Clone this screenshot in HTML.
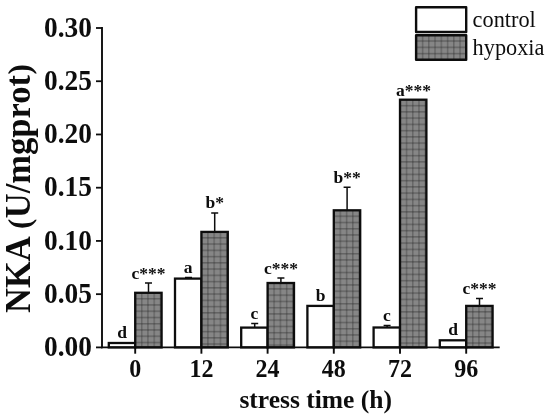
<!DOCTYPE html>
<html><head><meta charset="utf-8"><title>NKA</title><style>html,body{margin:0;padding:0;background:#fff}body{width:550px;height:417px;overflow:hidden}</style></head><body>
<svg width="550" height="417" viewBox="0 0 550 417" style="display:block">
<defs><pattern id="g0" x="140.95" y="297.95" width="6.25" height="6.25" patternUnits="userSpaceOnUse"><rect width="6.25" height="6.25" fill="#868686"/><path d="M0 0.8H6.25M0.8 0V6.25" stroke="#575757" stroke-width="1.0"/><rect x="0.2" y="0.2" width="1.2" height="1.2" fill="#4a4a4a"/></pattern><pattern id="g1" x="207.15" y="237.05" width="6.25" height="6.25" patternUnits="userSpaceOnUse"><rect width="6.25" height="6.25" fill="#868686"/><path d="M0 0.8H6.25M0.8 0V6.25" stroke="#575757" stroke-width="1.0"/><rect x="0.2" y="0.2" width="1.2" height="1.2" fill="#4a4a4a"/></pattern><pattern id="g2" x="273.35" y="288.15" width="6.25" height="6.25" patternUnits="userSpaceOnUse"><rect width="6.25" height="6.25" fill="#868686"/><path d="M0 0.8H6.25M0.8 0V6.25" stroke="#575757" stroke-width="1.0"/><rect x="0.2" y="0.2" width="1.2" height="1.2" fill="#4a4a4a"/></pattern><pattern id="g3" x="339.55" y="215.45" width="6.25" height="6.25" patternUnits="userSpaceOnUse"><rect width="6.25" height="6.25" fill="#868686"/><path d="M0 0.8H6.25M0.8 0V6.25" stroke="#575757" stroke-width="1.0"/><rect x="0.2" y="0.2" width="1.2" height="1.2" fill="#4a4a4a"/></pattern><pattern id="g4" x="405.75" y="104.85" width="6.25" height="6.25" patternUnits="userSpaceOnUse"><rect width="6.25" height="6.25" fill="#868686"/><path d="M0 0.8H6.25M0.8 0V6.25" stroke="#575757" stroke-width="1.0"/><rect x="0.2" y="0.2" width="1.2" height="1.2" fill="#4a4a4a"/></pattern><pattern id="g5" x="471.95" y="311.05" width="6.25" height="6.25" patternUnits="userSpaceOnUse"><rect width="6.25" height="6.25" fill="#868686"/><path d="M0 0.8H6.25M0.8 0V6.25" stroke="#575757" stroke-width="1.0"/><rect x="0.2" y="0.2" width="1.2" height="1.2" fill="#4a4a4a"/></pattern><pattern id="gl" x="421.80" y="40.30" width="6.25" height="6.25" patternUnits="userSpaceOnUse"><rect width="6.25" height="6.25" fill="#868686"/><path d="M0 0.8H6.25M0.8 0V6.25" stroke="#575757" stroke-width="1.0"/><rect x="0.2" y="0.2" width="1.2" height="1.2" fill="#4a4a4a"/></pattern></defs>
<rect width="550" height="417" fill="#fff"/>
<path d="M148.5 292.8V282.9M145.0 282.9h7" stroke="#0d0d0d" stroke-width="1.5" fill="none"/>
<rect x="108.8" y="343.0" width="26.4" height="4.4" fill="#fff" stroke="#0d0d0d" stroke-width="2.3"/>
<rect x="135.2" y="292.8" width="26.4" height="54.6" fill="url(#g0)" stroke="#0d0d0d" stroke-width="2.3"/>
<text x="122.0" y="337.6" font-family='"Liberation Serif", serif' font-weight="bold" font-size="17.5" text-anchor="middle" fill="#0d0d0d">d</text>
<text x="148.6" y="278.5" font-family='"Liberation Serif", serif' font-weight="bold" font-size="17.5" text-anchor="middle" fill="#0d0d0d">c***</text>
<path d="M214.7 231.9V213.1M211.2 213.1h7" stroke="#0d0d0d" stroke-width="1.5" fill="none"/>
<path d="M188.5 278.6V277.4M185.0 277.4h7" stroke="#0d0d0d" stroke-width="1.5" fill="none"/>
<rect x="175.0" y="278.6" width="26.4" height="68.8" fill="#fff" stroke="#0d0d0d" stroke-width="2.3"/>
<rect x="201.4" y="231.9" width="26.4" height="115.5" fill="url(#g1)" stroke="#0d0d0d" stroke-width="2.3"/>
<text x="188.2" y="272.9" font-family='"Liberation Serif", serif' font-weight="bold" font-size="17.5" text-anchor="middle" fill="#0d0d0d">a</text>
<text x="214.8" y="208.0" font-family='"Liberation Serif", serif' font-weight="bold" font-size="17.5" text-anchor="middle" fill="#0d0d0d">b*</text>
<path d="M280.9 283.0V278.1M277.4 278.1h7" stroke="#0d0d0d" stroke-width="1.5" fill="none"/>
<path d="M254.7 327.6V323.4M251.2 323.4h7" stroke="#0d0d0d" stroke-width="1.5" fill="none"/>
<rect x="241.2" y="327.6" width="26.4" height="19.8" fill="#fff" stroke="#0d0d0d" stroke-width="2.3"/>
<rect x="267.6" y="283.0" width="26.4" height="64.4" fill="url(#g2)" stroke="#0d0d0d" stroke-width="2.3"/>
<text x="254.4" y="318.5" font-family='"Liberation Serif", serif' font-weight="bold" font-size="17.5" text-anchor="middle" fill="#0d0d0d">c</text>
<text x="281.0" y="273.7" font-family='"Liberation Serif", serif' font-weight="bold" font-size="17.5" text-anchor="middle" fill="#0d0d0d">c***</text>
<path d="M347.1 210.3V187.2M343.6 187.2h7" stroke="#0d0d0d" stroke-width="1.5" fill="none"/>
<rect x="307.4" y="305.9" width="26.4" height="41.5" fill="#fff" stroke="#0d0d0d" stroke-width="2.3"/>
<rect x="333.8" y="210.3" width="26.4" height="137.1" fill="url(#g3)" stroke="#0d0d0d" stroke-width="2.3"/>
<text x="320.6" y="301.2" font-family='"Liberation Serif", serif' font-weight="bold" font-size="17.5" text-anchor="middle" fill="#0d0d0d">b</text>
<text x="347.2" y="182.8" font-family='"Liberation Serif", serif' font-weight="bold" font-size="17.5" text-anchor="middle" fill="#0d0d0d">b**</text>
<path d="M387.1 327.5V325.5M383.6 325.5h7" stroke="#0d0d0d" stroke-width="1.5" fill="none"/>
<rect x="373.6" y="327.5" width="26.4" height="19.9" fill="#fff" stroke="#0d0d0d" stroke-width="2.3"/>
<rect x="400.0" y="99.7" width="26.4" height="247.7" fill="url(#g4)" stroke="#0d0d0d" stroke-width="2.3"/>
<text x="386.8" y="321.1" font-family='"Liberation Serif", serif' font-weight="bold" font-size="17.5" text-anchor="middle" fill="#0d0d0d">c</text>
<text x="413.4" y="95.7" font-family='"Liberation Serif", serif' font-weight="bold" font-size="17.5" text-anchor="middle" fill="#0d0d0d">a***</text>
<path d="M479.5 305.9V298.4M476.0 298.4h7" stroke="#0d0d0d" stroke-width="1.5" fill="none"/>
<rect x="439.8" y="340.3" width="26.4" height="7.1" fill="#fff" stroke="#0d0d0d" stroke-width="2.3"/>
<rect x="466.2" y="305.9" width="26.4" height="41.5" fill="url(#g5)" stroke="#0d0d0d" stroke-width="2.3"/>
<text x="453.0" y="334.7" font-family='"Liberation Serif", serif' font-weight="bold" font-size="17.5" text-anchor="middle" fill="#0d0d0d">d</text>
<text x="479.6" y="294.0" font-family='"Liberation Serif", serif' font-weight="bold" font-size="17.5" text-anchor="middle" fill="#0d0d0d">c***</text>
<path d="M102.0 27.1V348.29999999999995" stroke="#0d0d0d" stroke-width="1.9" fill="none"/>
<path d="M101.1 347.4H499.7" stroke="#0d0d0d" stroke-width="1.9" fill="none"/>
<path d="M96 347.40H102.0" stroke="#0d0d0d" stroke-width="1.8"/>
<text transform="translate(92,356.0) scale(0.978,1.02)" font-family='"Liberation Serif", serif' font-weight="bold" font-size="28" text-anchor="end" fill="#0d0d0d">0.00</text>
<path d="M96 294.17H102.0" stroke="#0d0d0d" stroke-width="1.8"/>
<text transform="translate(92,302.8) scale(0.978,1.02)" font-family='"Liberation Serif", serif' font-weight="bold" font-size="28" text-anchor="end" fill="#0d0d0d">0.05</text>
<path d="M96 240.93H102.0" stroke="#0d0d0d" stroke-width="1.8"/>
<text transform="translate(92,249.5) scale(0.978,1.02)" font-family='"Liberation Serif", serif' font-weight="bold" font-size="28" text-anchor="end" fill="#0d0d0d">0.10</text>
<path d="M96 187.70H102.0" stroke="#0d0d0d" stroke-width="1.8"/>
<text transform="translate(92,196.3) scale(0.978,1.02)" font-family='"Liberation Serif", serif' font-weight="bold" font-size="28" text-anchor="end" fill="#0d0d0d">0.15</text>
<path d="M96 134.47H102.0" stroke="#0d0d0d" stroke-width="1.8"/>
<text transform="translate(92,143.1) scale(0.978,1.02)" font-family='"Liberation Serif", serif' font-weight="bold" font-size="28" text-anchor="end" fill="#0d0d0d">0.20</text>
<path d="M96 81.23H102.0" stroke="#0d0d0d" stroke-width="1.8"/>
<text transform="translate(92,89.8) scale(0.978,1.02)" font-family='"Liberation Serif", serif' font-weight="bold" font-size="28" text-anchor="end" fill="#0d0d0d">0.25</text>
<path d="M96 28.00H102.0" stroke="#0d0d0d" stroke-width="1.8"/>
<text transform="translate(92,36.6) scale(0.978,1.02)" font-family='"Liberation Serif", serif' font-weight="bold" font-size="28" text-anchor="end" fill="#0d0d0d">0.30</text>
<path d="M135.2 347.4V353.7" stroke="#0d0d0d" stroke-width="1.9"/>
<text transform="translate(135.2,377.2) scale(1,1.05)" font-family='"Liberation Serif", serif' font-weight="bold" font-size="24" text-anchor="middle" fill="#0d0d0d">0</text>
<path d="M201.4 347.4V353.7" stroke="#0d0d0d" stroke-width="1.9"/>
<text transform="translate(201.4,377.2) scale(1,1.05)" font-family='"Liberation Serif", serif' font-weight="bold" font-size="24" text-anchor="middle" fill="#0d0d0d">12</text>
<path d="M267.6 347.4V353.7" stroke="#0d0d0d" stroke-width="1.9"/>
<text transform="translate(267.6,377.2) scale(1,1.05)" font-family='"Liberation Serif", serif' font-weight="bold" font-size="24" text-anchor="middle" fill="#0d0d0d">24</text>
<path d="M333.8 347.4V353.7" stroke="#0d0d0d" stroke-width="1.9"/>
<text transform="translate(333.8,377.2) scale(1,1.05)" font-family='"Liberation Serif", serif' font-weight="bold" font-size="24" text-anchor="middle" fill="#0d0d0d">48</text>
<path d="M400.0 347.4V353.7" stroke="#0d0d0d" stroke-width="1.9"/>
<text transform="translate(400.0,377.2) scale(1,1.05)" font-family='"Liberation Serif", serif' font-weight="bold" font-size="24" text-anchor="middle" fill="#0d0d0d">72</text>
<path d="M466.2 347.4V353.7" stroke="#0d0d0d" stroke-width="1.9"/>
<text transform="translate(466.2,377.2) scale(1,1.05)" font-family='"Liberation Serif", serif' font-weight="bold" font-size="24" text-anchor="middle" fill="#0d0d0d">96</text>
<text x="315.7" y="408" font-family='"Liberation Serif", serif' font-weight="bold" font-size="25.5" text-anchor="middle" fill="#0d0d0d">stress time (h)</text>
<text transform="translate(29.8,188.6) rotate(-90) scale(1,1.05)" font-family='"Liberation Serif", serif' font-weight="bold" font-size="34.5" text-anchor="middle" fill="#0d0d0d">NKA <tspan font-size="31" dx="0.6">(</tspan><tspan dx="0.6">U/mgprot</tspan><tspan font-size="31" dx="0.6">)</tspan></text>
<rect x="416.1" y="7.2" width="50.1" stroke-linejoin="round" height="24.8" fill="#fff" stroke="#0d0d0d" stroke-width="2.4"/>
<rect x="416.1" y="35.2" width="50.1" stroke-linejoin="round" height="24.6" fill="url(#gl)" stroke="#0d0d0d" stroke-width="2.4"/>
<text x="472.6" y="26.9" font-family='"Liberation Serif", serif' font-size="22.3" fill="#0d0d0d">control</text>
<text x="472.6" y="55.3" font-family='"Liberation Serif", serif' font-size="22.3" fill="#0d0d0d">hypoxia</text>
</svg>
</body></html>
